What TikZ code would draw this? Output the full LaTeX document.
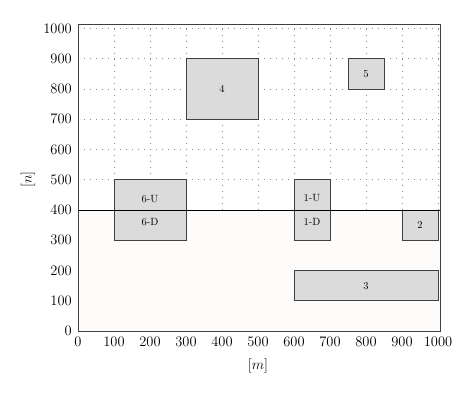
\documentclass[tikz,border=0pt]{standalone}
\begin{document}
\begin{tikzpicture}[x=0.36pt,y=0.3025pt,
  zone/.style={draw=black!75,line width=0.9pt,fill=black!14},
  zlabel/.style={font=\fontsize{10.5}{12}\selectfont,inner sep=0pt},
  ticklab/.style={font=\fontsize{14.5}{16}\selectfont,inner sep=0pt},
  gridline/.style={draw=black!45,line width=0.6pt,dash pattern=on 0.8pt off 5.2pt},
  axlab/.style={font=\fontsize{15}{17}\selectfont,inner sep=0pt}]
\useasboundingbox (-216.67,-208.26) rectangle (1100,1094.2);
% lower shaded region
\fill[fill={rgb,255:red,253;green,252;blue,250}] (0,0) rectangle (1008,400);
% grid above 400
\foreach \x in {100,200,...,1000} \draw[gridline] (\x,400) -- (\x,1011.6);
\foreach \y in {500,600,...,1000} \draw[gridline] (0,\y) -- (1008,\y);
% zones
\node[zone,minimum width=72pt,minimum height=60.5pt,inner sep=0pt] (z6) at (200,400) {};
\node[zone,minimum width=36pt,minimum height=60.5pt,inner sep=0pt] (z1) at (650,400) {};
\node[zone,minimum width=36pt,minimum height=30.25pt,inner sep=0pt] (z2) at (950,350) {};
\node[zone,minimum width=144pt,minimum height=30.25pt,inner sep=0pt] (z3) at (800,150) {};
\node[zone,minimum width=72pt,minimum height=60.5pt,inner sep=0pt] (z4) at (400,800) {};
\node[zone,minimum width=36pt,minimum height=30.25pt,inner sep=0pt] (z5) at (800,850) {};
\node[zlabel] (l6u) at (200,437) {6-U};
\node[zlabel] (l6d) at (200,361) {6-D};
\node[zlabel] (l1u) at (650,441) {1-U};
\node[zlabel] (l1d) at (650,359) {1-D};
\node[zlabel] (l2) at (z2.center) {2};
\node[zlabel] (l3) at (z3.center) {3};
\node[zlabel] (l4) at (z4.center) {4};
\node[zlabel] (l5) at (z5.center) {5};
% 400 line
\coordinate (hl) at (0,400);
\coordinate (hr) at (1008,400);
\draw[black,line width=0.9pt] (hl) -- (hr);
% frame
\draw[black!75,line width=1pt] (0,0) rectangle (1008,1011.6);
% tick labels
\foreach \x in {0,100,...,1000} \node[ticklab] (tx\x) at ([yshift=-11pt]\x,0) {\x};
\foreach \y in {0,100,...,1000} \node[ticklab,anchor=east] (ty\y) at ([xshift=-6pt]0,\y) {\y};
\node[axlab] (xl) at (500,-114) {$[m]$};
\node[axlab,rotate=90] (yl) at (-139,500) {$[n]$};
\end{tikzpicture}
\end{document}
